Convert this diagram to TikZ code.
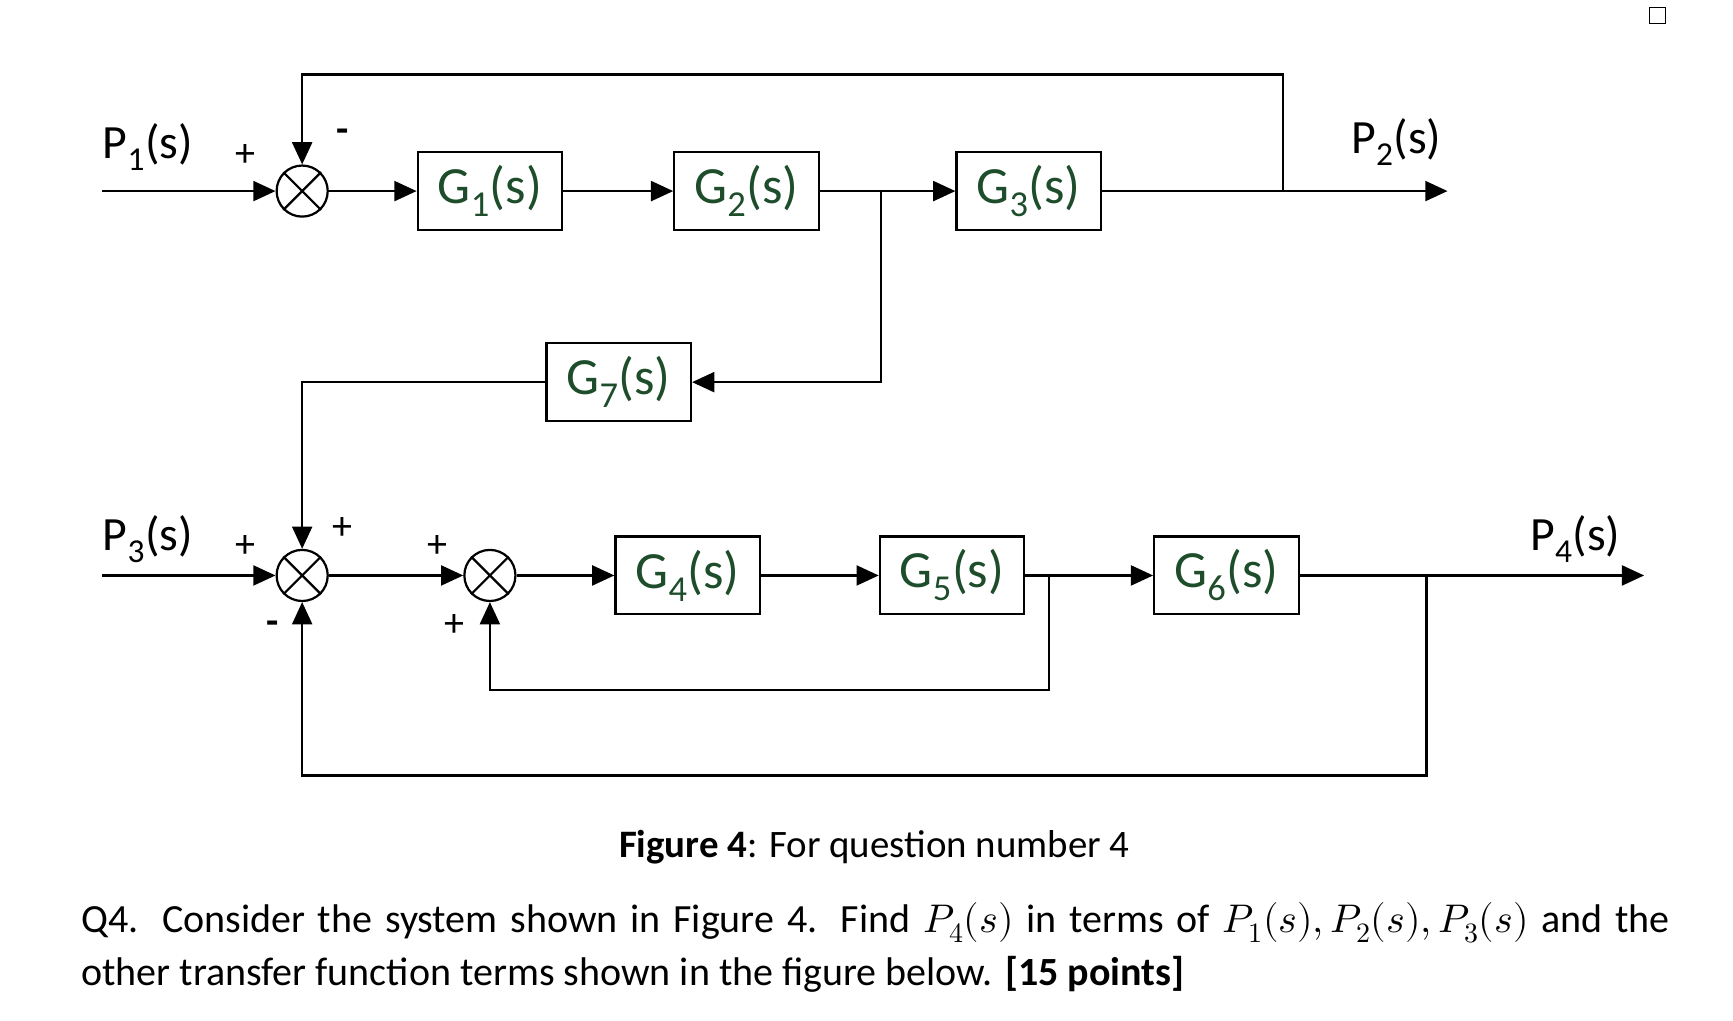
\documentclass[tikz,border=0pt]{standalone}
\usepackage{amsmath}
\usepackage{unicode-math}
\setmainfont{Carlito}
\setmathfont{Latin Modern Math}
\usetikzlibrary{arrows.meta}
\definecolor{gtxt}{HTML}{1E4D2B}
\begin{document}
\begin{tikzpicture}[x=1pt,y=-1pt,
  blk/.style={draw,line width=2pt,minimum width=130pt,minimum height=70pt,inner sep=0pt,font=\fontsize{47}{49}\selectfont,text=gtxt},
  sm/.style={draw,circle,line width=2pt,minimum size=46pt,inner sep=0pt},
  ln/.style={line width=2pt},
  ar/.style={line width=2pt,-{Triangle[length=20pt,width=18pt]}},
  lab/.style={font=\fontsize{43}{45}\selectfont},
  sg/.style={font=\fontsize{36}{38}\selectfont}]
\useasboundingbox (0,0) rectangle (1560,919);
\node[draw,line width=1pt,minimum size=15pt,inner sep=0pt] (sq) at (1492,14) {};
% sums
\node[sm] (s1) at (272,172) {};
\node[sm] (s2) at (272,518) {};
\node[sm] (s3) at (441,518) {};
\foreach \s in {s1,s2,s3}{
  \draw[ln] (\s.north west) -- (\s.south east) (\s.north east) -- (\s.south west);}
% blocks
\node[blk] (g1) at (441,172) {G\textsubscript{1}(s)};
\node[blk] (g2) at (672,172) {G\textsubscript{2}(s)};
\node[blk] (g3) at (926,172) {G\textsubscript{3}(s)};
\node[blk] (g7) at (557,344) {G\textsubscript{7}(s)};
\node[blk] (g4) at (619,518) {G\textsubscript{4}(s)};
\node[blk] (g5) at (857,518) {G\textsubscript{5}(s)};
\node[blk] (g6) at (1104,518) {G\textsubscript{6}(s)};
% coordinates
\coordinate (in1) at (92,172);
\coordinate (out1) at (1303,172);
\coordinate (in2) at (92,518);
\coordinate (out2) at (1480,518);
\coordinate (b1) at (793,172);
\coordinate (b2) at (1155,172);
\coordinate (b3) at (944,518);
\coordinate (b4) at (1284,518);
% top row
\draw[ar] (in1) -- (s1.west);
\draw[ar] (s1.east) -- (g1.west);
\draw[ar] (g1.east) -- (g2.west);
\draw[ar] (g2.east) -- (g3.west);
\draw[ar] (g3.east) -- (out1);
\draw[ar] (b2) -- (1155,67) -| (s1.north);
\draw[ar] (b1) |- (g7.east);
\draw[ar] (g7.west) -| (s2.north);
% bottom row
\draw[ar] (in2) -- (s2.west);
\draw[ar] (s2.east) -- (s3.west);
\draw[ar] (s3.east) -- (g4.west);
\draw[ar] (g4.east) -- (g5.west);
\draw[ar] (g5.east) -- (g6.west);
\draw[ar] (g6.east) -- (out2);
\draw[ar] (b3) -- (944,621) -| (s3.south);
\draw[ar] (b4) -- (1284,698) -| (s2.south);
% labels
\node[lab] (p1) at (133,132) {P\textsubscript{1}(s)};
\node[lab] (p2) at (1257,128) {P\textsubscript{2}(s)};
\node[lab] (p3) at (133,485) {P\textsubscript{3}(s)};
\node[lab] (p4) at (1418,485) {P\textsubscript{4}(s)};
\node[sg] (a1) at (221,140) {+};
\node[sg] (a2) at (308,122) {\textbf{-}};
\node[sg] (a3) at (221,492) {+};
\node[sg] (a4) at (308,476) {+};
\node[sg] (a5) at (245,565) {\textbf{-}};
\node[sg] (a6) at (394,492) {+};
\node[sg] (a7) at (409,563) {+};
% caption
\node[font=\fontsize{35}{37}\selectfont] (cap) at (787,763) {\textbf{Figure 4}: For question number 4};
\node[font=\fontsize{36}{48}\selectfont,text width=1430pt,align=justify,anchor=north west,inner sep=0pt] (q) at (73,812)
 {Q4. Consider the system shown in Figure 4. Find $P_4(s)$ in terms of $P_1(s),P_2(s),P_3(s)$ and the\linebreak other transfer function terms shown in the figure below. \textbf{[15 points]}};
\end{tikzpicture}
\end{document}
